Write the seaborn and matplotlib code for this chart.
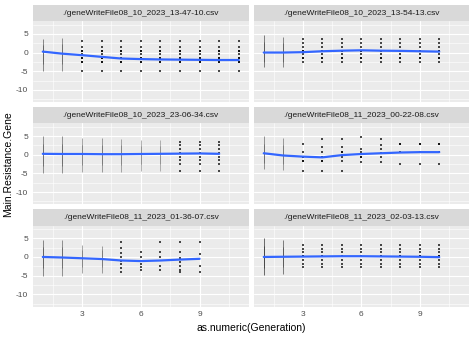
import matplotlib
matplotlib.use("Agg")
import matplotlib.pyplot as plt
import seaborn as sns
import pandas as pd

# ---------------- data ----------------
FILES = [
    "./geneWriteFile08_10_2023_13-47-10.csv",
    "./geneWriteFile08_10_2023_13-54-13.csv",
    "./geneWriteFile08_10_2023_23-06-34.csv",
    "./geneWriteFile08_11_2023_00-22-08.csv",
    "./geneWriteFile08_11_2023_01-36-07.csv",
    "./geneWriteFile08_11_2023_02-03-13.csv",
]

# smoothed trend (loess) read at each generation
SMOOTH_1 = [0.25, -0.3, -0.7, -1.15, -1.6, -1.75, -1.85, -1.9, -1.95, -2.0, -2.0]
SMOOTH_2 = [0.0, 0.0, 0.1, 0.35, 0.5, 0.6, 0.5, 0.45, 0.35, 0.25]
SMOOTH_3 = [0.25, 0.2, 0.2, 0.15, 0.15, 0.2, 0.25, 0.3, 0.35, 0.25]
SMOOTH_4 = [0.4, -0.2, -0.5, -0.7, -0.1, 0.2, 0.4, 0.6, 0.7, 0.7]
SMOOTH_5 = [0.0, -0.15, -0.35, -0.55, -0.95, -1.1, -0.95, -0.7, -0.5]
SMOOTH_6 = [0.0, 0.05, 0.1, 0.15, 0.2, 0.2, 0.15, 0.1, 0.05, -0.05]

# dense early generations (near-continuous spread of values): gen, low, high, shade
STREAK_1 = [(1, -5.0, 3.5, 0.5), (2, -5.0, 4.0, 0.45)]
STREAK_2 = [(1, -4.0, 4.7, 0.55), (2, -4.0, 4.2, 0.5)]
STREAK_3 = [(1, -4.8, 5.0, 0.45), (2, -4.8, 5.0, 0.45), (3, -4.5, 4.5, 0.4),
            (4, -4.5, 4.5, 0.4), (5, -4.5, 4.3, 0.35), (6, -4.3, 4.0, 0.35),
            (7, -4.3, 4.0, 0.3)]
STREAK_4 = [(1, -3.7, 5.0, 0.45), (2, -4.0, 4.5, 0.4)]
STREAK_5 = [(1, -5.0, 4.5, 0.5), (2, -5.0, 4.5, 0.45), (3, -4.3, 3.2, 0.4),
            (4, -4.3, 3.0, 0.4)]
STREAK_6 = [(1, -4.8, 5.0, 0.65), (2, -4.6, 4.5, 0.55)]

# discrete values at later generations
COL_1 = [3, 1.5, 0.5, 0.5, -0.5, -1.5, -1.5, -2.5, -2.5, -5]
COL_2 = [3.5, 2.5, 1.5, 0.5, 0.5, -0.5, -1.5, -1.5, -2.5]
COL_3 = [3.5, 2.5, 1.5, 0.5, -0.5, -1.5, -2.5, -4.4]
COL_6 = [3.2, 2.2, 1.2, 0.2, 0.2, -0.8, -1.8, -2.7]
DOTS_1 = {g: COL_1 for g in [3, 4, 5, 6, 7, 8, 9, 10, 11]}
DOTS_2 = {g: COL_2 for g in [3, 4, 5, 6, 7, 8, 9, 10]}
DOTS_3 = {g: COL_3 for g in [8, 9, 10]}
DOTS_4 = {
    3: [2.8, 0.8, -0.7, -0.7, -1.7, -1.7, -4.4],
    4: [4.3, 2.0, 0.8, -0.7, -0.7, -1.7, -1.7, -4.4],
    5: [4.3, 2.0, 0.8, 0.8, -0.7, -1.7, -4.4],
    6: [4.8, 1.5, 0.8, -0.7, -0.7, -2.0],
    7: [4.3, 2.5, 1.5, 0.5, -0.5, -2.0],
    8: [3.0, 3.0, 0.8, -2.5],
    9: [3.0, 3.0, 0.8, -2.5],
    10: [3.0, 3.0, 0.8, 0.8, -2.5],
}
DOTS_5 = {
    5: [4.0, 2.5, 1.0, 0.0, -1.0, -2.0, -3.0, -4.0],
    6: [1.4, 0.0, -1.8, -2.7, -3.6],
    7: [4.0, 1.4, 0.0, -2.3, -3.6],
    8: [4.0, 1.4, -0.3, -1.4, -2.3, -3.4, -4.1],
    9: [3.9, 0.9, -2.3, -4.1],
}
DOTS_6 = {g: COL_6 for g in [3, 4, 5, 6, 7, 8, 9, 10]}

X_TICKS = [3, 6, 9]
Y_TICKS = [-10, -5, 0, 5]

SMOOTHS = [SMOOTH_1, SMOOTH_2, SMOOTH_3, SMOOTH_4, SMOOTH_5, SMOOTH_6]
STREAKS = [STREAK_1, STREAK_2, STREAK_3, STREAK_4, STREAK_5, STREAK_6]
DOTS = [DOTS_1, DOTS_2, DOTS_3, DOTS_4, DOTS_5, DOTS_6]

# ---------------- layout ----------------
W, H = 474, 338
sns.set_theme(style="darkgrid")
plt.rcParams["font.family"] = ["Liberation Sans", "DejaVu Sans"]

fig = plt.figure(figsize=(W / 100, H / 100), dpi=100)

COL_X = [(33, 248.6), (254, 468.5)]
ROW_STRIP_TOP = [5.0, 107.2, 209.4]
STRIP_H = 16.2
PANEL_H = 81.0


def frac_rect(x0, x1, y_top, h):
    return [x0 / W, 1 - (y_top + h) / H, (x1 - x0) / W, h / H]


for i, name in enumerate(FILES):
    r, c = divmod(i, 2)
    x0, x1 = COL_X[c]
    st = ROW_STRIP_TOP[r]
    ax = fig.add_axes(frac_rect(x0, x1, st + STRIP_H, PANEL_H))
    sax = fig.add_axes(frac_rect(x0, x1, st, STRIP_H))

    # strip
    sax.set_facecolor("#D9D9D9")
    sax.grid(False)
    sax.set_xticks([]); sax.set_yticks([])
    for s in sax.spines.values():
        s.set_visible(False)
    sax.text(0.5, 0.48, name, ha="center", va="center", fontsize=6,
             color="#1A1A1A", transform=sax.transAxes)

    # panel background / grid
    ax.set_facecolor("#EBEBEB")
    for s in ax.spines.values():
        s.set_visible(False)
    ax.set_xlim(0.5, 11.5)
    ax.set_ylim(-13.3, 8.4)
    ax.set_xticks(X_TICKS)
    ax.set_yticks(Y_TICKS)
    ax.set_xticks([1.5, 4.5, 7.5, 10.5], minor=True)
    ax.set_yticks([-12.5, -7.5, -2.5, 2.5, 7.5], minor=True)
    ax.grid(which="major", color="white", linewidth=0.8)
    ax.grid(which="minor", color="white", linewidth=0.4)
    ax.set_axisbelow(True)
    ax.tick_params(which="minor", length=0)
    ax.tick_params(which="major", length=2, width=0.5, color="#333333",
                   labelsize=6, labelcolor="#4D4D4D", pad=1.5)
    if c == 1:
        ax.tick_params(axis="y", labelleft=False, length=0)
    else:
        ax.set_yticklabels([str(v) for v in Y_TICKS])
    if r < 2:
        ax.tick_params(axis="x", labelbottom=False, length=0)
    else:
        ax.set_xticklabels([str(v) for v in X_TICKS])

    # dense streaks
    for g, lo, hi, shade in STREAKS[i]:
        ax.vlines(g, lo, hi, color="black", alpha=shade, linewidth=0.6,
                  zorder=2)
        ax.vlines(g, lo * 0.6, hi * 0.6, color="black", alpha=shade * 0.6,
                  linewidth=0.6, zorder=2)

    # discrete points
    rows = [(g, v) for g, vals in DOTS[i].items() for v in vals]
    df = pd.DataFrame(rows, columns=["gen", "val"])
    sns.scatterplot(data=df, x="gen", y="val", color="black", s=1.8,
                    alpha=0.7, linewidth=0, marker="s", ax=ax,
                    legend=False, zorder=3)

    # smooth
    sm = SMOOTHS[i]
    sdf = pd.DataFrame({"gen": list(range(1, len(sm) + 1)), "val": sm})
    sns.lineplot(data=sdf, x="gen", y="val", color="#3366FF", linewidth=1.6,
                 ax=ax, zorder=4)
    ax.set_xlabel("")
    ax.set_ylabel("")

fig.text(251 / W, 1 - 328 / H, "as.numeric(Generation)", ha="center",
         va="center", fontsize=7.5, color="black")
fig.text(8 / W, 1 - 164 / H, "Main.Resistance.Gene", ha="center",
         va="center", rotation=90, fontsize=7.5, color="black")

fig.savefig("out.png", dpi=100, facecolor="white")
